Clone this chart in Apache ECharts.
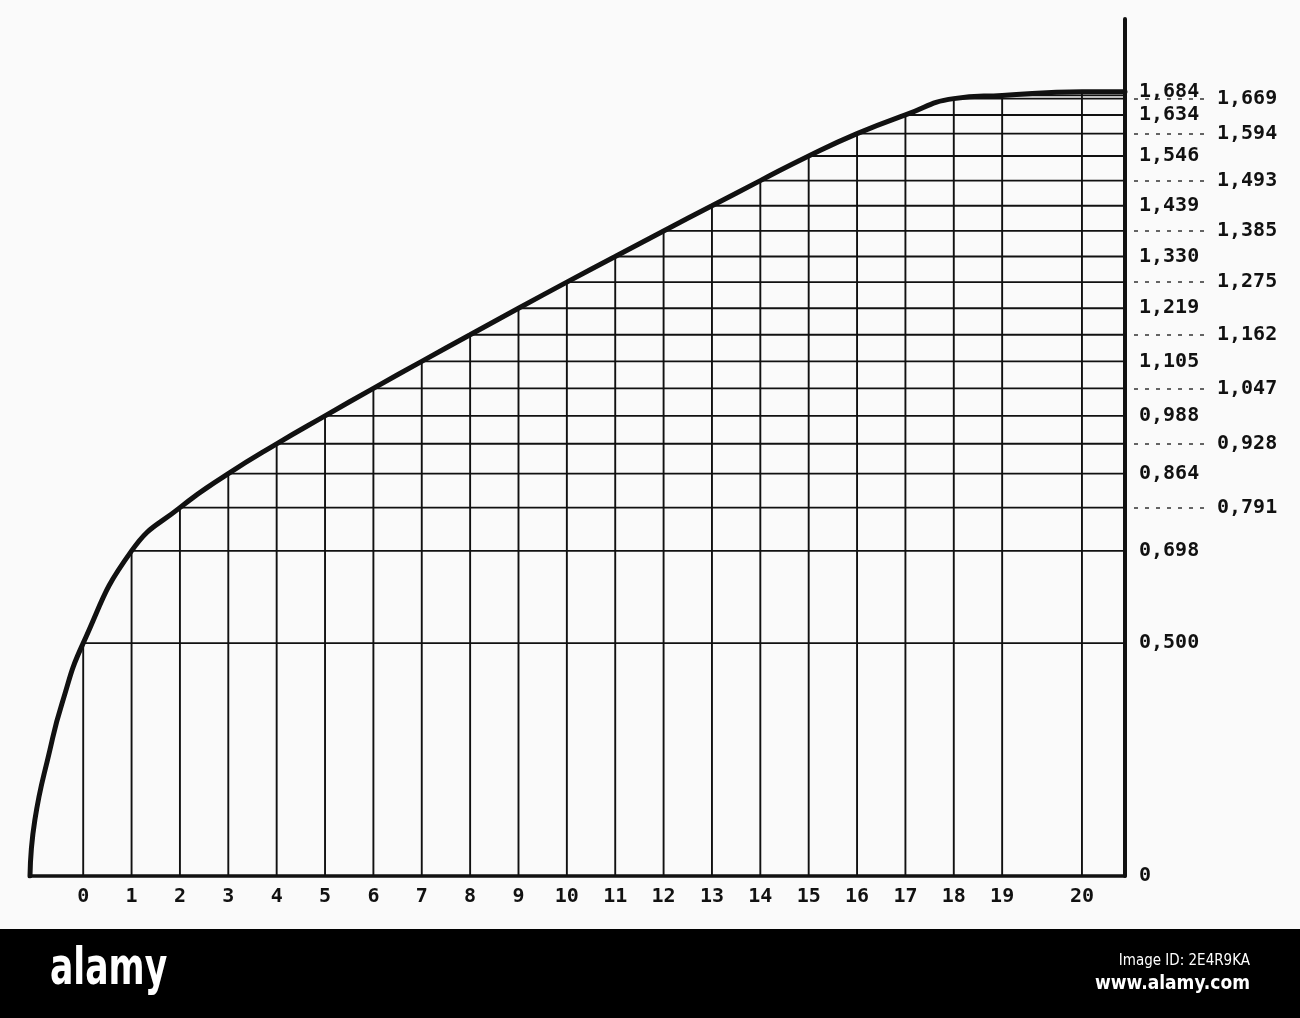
<!DOCTYPE html>
<html>
<head>
<meta charset="utf-8">
<script src="https://cdn.jsdelivr.net/npm/echarts@6/dist/echarts.min.js"></script>
<style>
  html, body { margin: 0; padding: 0; background: #fafafa; }
  #chart { width: 1300px; height: 1018px; }
</style>
</head>
<body>
<div id="chart"></div>
<script>
// ---- data ----
const xLabels = ['0','1','2','3','4','5','6','7','8','9','10','11','12','13','14','15','16','17','18','19','20'];
const xPositions = [0,1,2,3,4,5,6,7,8,9,10,11,12,13,14,15,16,17,18,19,20.65];
const yValues = [0.500,0.698,0.791,0.864,0.928,0.988,1.047,1.105,1.162,1.219,1.275,1.330,1.385,1.439,1.493,1.546,1.594,1.634,1.669,1.676,1.684];
const curveLeadX = [-1.1, -1.0, -0.69, -0.44];
const curveLeadY = [0, 0.12, 0.27, 0.37];
// the curve continues flat to the right-hand axis
const curveEnd = [21.54, 1.684];
const leftTickValues = [1.684,1.634,1.546,1.439,1.330,1.219,1.105,0.988,0.864,0.698,0.500,0];
const rightTickValues = [1.669,1.594,1.493,1.385,1.275,1.162,1.047,0.928,0.791];

const X_MIN = curveLeadX[0], X_MAX = curveEnd[0];
const Y_MAX = 1.84;
const INK = '#111';
const FONT = '"DejaVu Sans Mono", monospace';

const points = xPositions.map((x, i) => [x, yValues[i]]);
const lead = curveLeadX.map((x, i) => [x, curveLeadY[i]]);
const curve = lead.concat(points, [curveEnd]);

function fmt(v) {
  if (v === 0) return '0';
  return v.toFixed(3).replace('.', ',');
}

const chart = echarts.init(document.getElementById('chart'), null, { renderer: 'canvas' });

chart.setOption({
  backgroundColor: '#fafafa',
  animation: false,
  grid: { left: 30, right: 175, top: 19, bottom: 142 },
  xAxis: {
    type: 'value', min: X_MIN, max: X_MAX,
    splitLine: { show: false },
    axisLine: { show: true, lineStyle: { color: INK, width: 3.5 } },
    axisTick: { show: false },
    axisLabel: {
      customValues: xPositions,
      formatter: v => { const i = xPositions.findIndex(p => Math.abs(p - v) < 1e-6); return i >= 0 ? xLabels[i] : ''; },
      margin: 11, color: INK, fontFamily: FONT, fontWeight: 'bold', fontSize: 20
    }
  },
  yAxis: [
    {
      type: 'value', min: 0, max: Y_MAX, position: 'right',
      splitLine: { show: false },
      axisLine: { show: true, onZero: false, lineStyle: { color: INK, width: 4 } },
      axisTick: { show: false },
      axisLabel: {
        customValues: leftTickValues, formatter: fmt,
        margin: 14, align: 'left', verticalAlign: 'middle', padding: [0, 0, 16, 0],
        color: INK, fontFamily: FONT, fontWeight: 'bold', fontSize: 20
      }
    },
    {
      type: 'value', min: 0, max: Y_MAX, position: 'right', offset: 9,
      splitLine: { show: false },
      axisLine: { show: false, onZero: false },
      axisTick: {
        show: true, inside: false, length: 76, customValues: rightTickValues,
        lineStyle: { color: '#333', width: 1.6, type: [4, 7] }
      },
      axisLabel: {
        customValues: rightTickValues, formatter: fmt,
        margin: 83, align: 'left', verticalAlign: 'middle', padding: [0, 0, 12, 0],
        color: INK, fontFamily: FONT, fontWeight: 'bold', fontSize: 20
      }
    }
  ],
  series: [
    {
      type: 'custom',
      coordinateSystem: 'cartesian2d',
      data: points,
      z: 1,
      renderItem: function (params, api) {
        const x = api.value(0), v = api.value(1);
        const p = api.coord([x, v]);
        const b = api.coord([x, 0]);
        const r = api.coord([X_MAX, v]);
        const st = { stroke: INK, lineWidth: 1.9 };
        return {
          type: 'group',
          children: [
            { type: 'line', shape: { x1: p[0], y1: p[1], x2: b[0], y2: b[1] }, style: st },
            { type: 'line', shape: { x1: p[0], y1: p[1], x2: r[0], y2: r[1] }, style: st }
          ]
        };
      }
    },
    {
      type: 'line',
      data: curve,
      smooth: 0.5,
      symbol: 'none',
      z: 3,
      lineStyle: { color: INK, width: 5, cap: 'round' }
    }
  ],
  graphic: [
    { type: 'rect', shape: { x: 0, y: 929, width: 1300, height: 89 }, style: { fill: '#000' }, z: 10 },
    { type: 'text', x: 50, y: 944, scaleX: 0.74, z: 11,
      style: { text: 'alamy', fill: '#fff', font: 'bold 52px "Liberation Sans Narrow", "DejaVu Sans Condensed", sans-serif' } },
    { type: 'text', x: 1250, y: 954, z: 11,
      style: { text: 'Image ID: 2E4R9KA', fill: '#fff', align: 'right', font: '15px "Liberation Sans Narrow", "DejaVu Sans Condensed", sans-serif' } },
    { type: 'text', x: 1250, y: 975, z: 11,
      style: { text: 'www.alamy.com', fill: '#fff', align: 'right', font: 'bold 19px "Liberation Sans Narrow", "DejaVu Sans Condensed", sans-serif' } }
  ]
});
</script>
</body>
</html>
